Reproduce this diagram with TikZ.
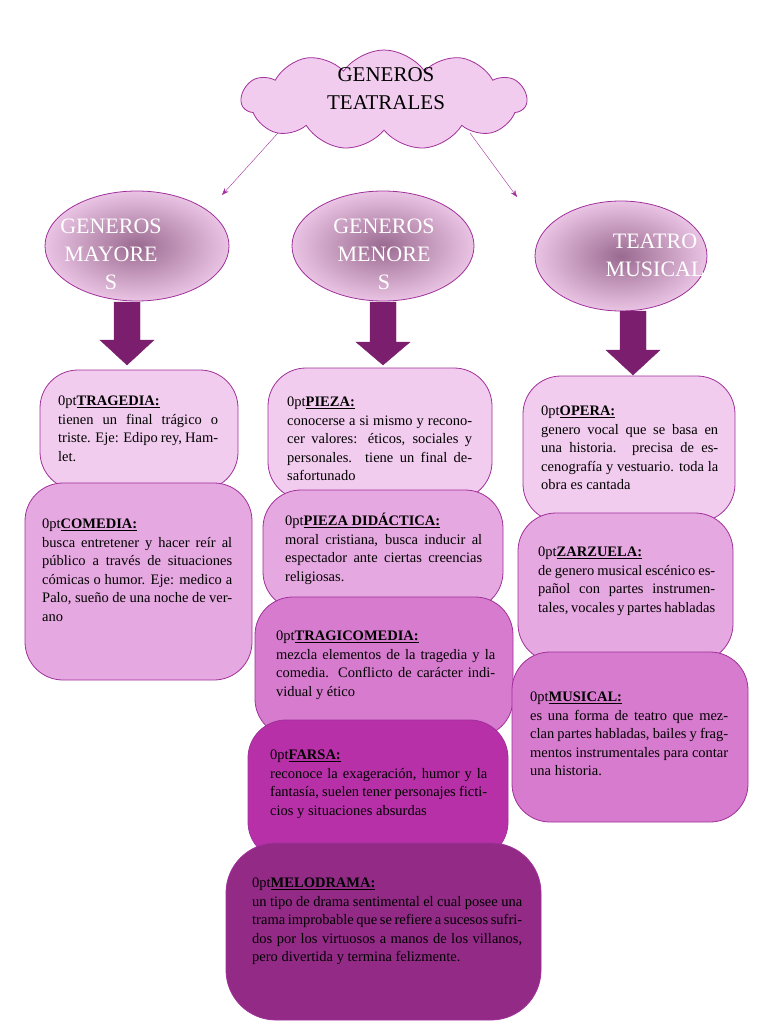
\documentclass[tikz,border=0pt]{standalone}
\usepackage{fontspec}
\setmainfont{Liberation Serif}
\usetikzlibrary{shapes.symbols,shapes.geometric,arrows.meta}
\definecolor{edge}{HTML}{A0309A}
\definecolor{c1}{HTML}{F2CCEE}
\definecolor{c2}{HTML}{E6A8E0}
\definecolor{c3}{HTML}{D77BCE}
\definecolor{c4}{HTML}{B830A8}
\definecolor{c5}{HTML}{922A86}
\definecolor{barrow}{HTML}{7B1E6E}
\definecolor{gin}{HTML}{9A6A90}
\definecolor{gout}{HTML}{EAC4E4}
\begin{document}
\begin{tikzpicture}[x=1pt,y=-1pt,
  box/.style={draw=edge,line width=0.8pt,rounded corners=38pt},
  txt/.style={anchor=north west,inner sep=0pt,align=justify,font=\fontsize{14.5}{18.5}\selectfont\hyphenpenalty=10000\exhyphenpenalty=10000},
  ell/.style={ellipse,draw=edge,line width=0.8pt,inner color=gin,outer color=gout},
  etxt/.style={text=white,align=center,font=\fontsize{22}{28}\selectfont},
  down/.style={fill=barrow,draw=barrow}]
\useasboundingbox (0,0) rectangle (768,1024);
% cloud
\node[cloud,cloud puffs=11,cloud puff arc=110,aspect=2.6,draw=edge,fill=c1,line width=0.8pt,minimum width=285pt,minimum height=100pt] (cl) at (384,100) {};
\node[align=center,font=\fontsize{21}{28}\selectfont] (clt) at (386,89) {GENEROS\\TEATRALES};
\coordinate (a1s) at (278,133); \coordinate (a1e) at (222,195);
\coordinate (a2s) at (470,133); \coordinate (a2e) at (517,197);
\draw[edge,-{Stealth[length=7pt]}] (a1s) -- (a1e);
\draw[edge,-{Stealth[length=7pt]}] (a2s) -- (a2e);
% ellipses
\node[ell,minimum width=184pt,minimum height=110pt] (e1) at (137,246) {};
\node[ell,minimum width=182pt,minimum height=110pt] (e2) at (383,246) {};
\node[ell,minimum width=172pt,minimum height=110pt] (e3) at (621,256) {};
\begin{scope}
\clip (137,246) ellipse (92 and 55);
\node[etxt] (t1) at (111,254) {GENEROS\\MAYORE\\S};
\end{scope}
\begin{scope}
\clip (383,246) ellipse (91 and 55);
\node[etxt] (t2) at (384,254) {GENEROS\\MENORE\\S};
\end{scope}
\node[etxt] (t3) at (655,255) {TEATRO\\MUSICAL};
% block arrows
\draw[down] (114,302) -- (140,302) -- (140,340) -- (154,340) -- (127,365) -- (100,340) -- (114,340) -- cycle;
\draw[down] (370,302) -- (396,302) -- (396,342) -- (410,342) -- (383,365) -- (356,342) -- (370,342) -- cycle;
\draw[down] (620,311) -- (646,311) -- (646,350) -- (660,350) -- (633,375) -- (606,350) -- (620,350) -- cycle;
% left
\draw[box,fill=c1] (40,370) rectangle (238,490);
\node[txt,text width=160pt] (tr) at (58,396) {\textbf{\underline{TRAGEDIA:}}\\tienen un final trágico o triste. Eje: Edipo rey, Hamlet.};
\draw[box,fill=c2] (25,483) rectangle (252,680);
\node[txt,text width=190pt] (co) at (42,519) {\textbf{\underline{COMEDIA:}}\\busca entretener y hacer reír al público a través de situaciones cómicas o humor. Eje: medico a Palo, sueño de una noche de verano};
% middle
\draw[box,fill=c1] (268,368) rectangle (492,500);
\node[txt,text width=185pt] (pi) at (287,397) {\textbf{\underline{PIEZA:}}\\conocerse a si mismo y reconocer valores: éticos, sociales y personales. tiene un final desafortunado};
\draw[box,fill=c2] (263,490) rectangle (503,610);
\node[txt,text width=197pt] (pd) at (285,513) {\textbf{\underline{PIEZA DIDÁCTICA:}}\\moral cristiana, busca inducir al espectador ante ciertas creencias religiosas.};
\draw[box,fill=c3] (255,597) rectangle (513,737);
\node[txt,text width=219pt] (tc) at (276,631) {\textbf{\underline{TRAGICOMEDIA:}}\\mezcla elementos de la tragedia y la comedia. Conflicto de carácter individual y ético};
\draw[box,fill=c4] (248,720) rectangle (508,860);
\node[txt,text width=217pt] (fa) at (270,750) {\textbf{\underline{FARSA:}}\\reconoce la exageración, humor y la fantasía, suelen tener personajes ficticios y situaciones absurdas};
\draw[box,fill=c5,rounded corners=50pt] (226,843) rectangle (541,1020);
\node[txt,text width=270pt] (me) at (252,878) {\textbf{\underline{MELODRAMA:}}\\un tipo de drama sentimental el cual posee una trama improbable que se refiere a sucesos sufridos por los virtuosos a manos de los villanos, pero divertida y termina felizmente.};
% right
\draw[box,fill=c1] (523,376) rectangle (735,522);
\node[txt,text width=177pt] (op) at (541,406) {\textbf{\underline{OPERA:}}\\genero vocal que se basa en una historia. precisa de escenografía y vestuario. toda la obra es cantada};
\draw[box,fill=c2] (518,513) rectangle (733,662);
\node[txt,text width=177pt] (za) at (538,547) {\textbf{\underline{ZARZUELA:}}\\de genero musical escénico español con partes instrumentales, vocales y partes habladas};
\draw[box,fill=c3] (512,652) rectangle (748,822);
\node[txt,text width=198pt] (mu) at (530,692) {\textbf{\underline{MUSICAL:}}\\es una forma de teatro que mezclan partes habladas, bailes y fragmentos instrumentales para contar una historia.};
\end{tikzpicture}
\end{document}
